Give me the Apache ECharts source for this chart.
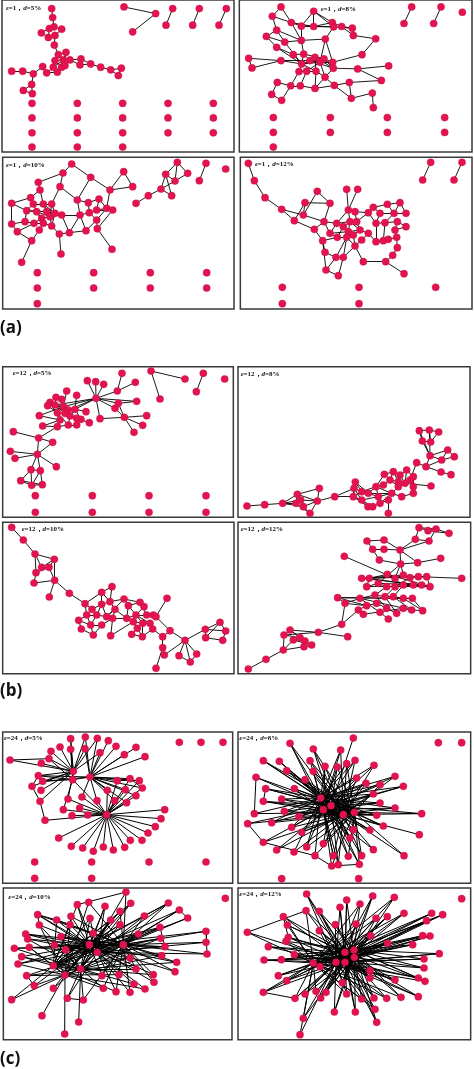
<!DOCTYPE html>
<html><head><meta charset="utf-8">
<script src="https://cdn.jsdelivr.net/npm/echarts@6/dist/echarts.min.js"></script>
<style>html,body{margin:0;padding:0;background:#fff}#c{width:474px;height:1069px}</style>
</head><body><div id="c"></div>
<script>
// ---- data (node positions in panel units) ----
const a1Nodes=[[155,23],[158,50],[162,78],[148,83],[185,85],[124,96],[145,110],[165,104],[163,133],[175,162],[198,155],[165,180],[190,178],[160,200],[185,200],[172,215],[140,217],[195,195],[210,178],[243,175],[240,193],[272,190],[302,200],[332,208],[364,203],[355,225],[128,198],[100,220],[68,212],[35,212],[95,252],[70,270],[97,280],[372,18],[467,38],[398,93],[518,23],[498,73],[598,23],[578,73],[679,23],[657,73]];
const a1Edges="0-1 1-2 2-3 2-4 3-5 3-6 4-7 6-7 5-6 7-8 8-9 9-11 9-12 10-12 10-17 11-13 11-12 12-14 13-15 14-15 13-16 14-17 11-14 12-13 15-16 17-18 18-19 19-20 20-21 21-22 22-23 23-24 24-25 23-25 16-26 26-27 27-28 28-29 27-30 30-31 30-32 31-32 12-15 9-10 18-20 19-21 33-34 34-35 36-37 38-39 40-41";
const a1Iso=[[96,309],[232,309],[368,309],[504,309],[640,309],[96,353],[232,353],[368,353],[504,353],[640,353],[96,398],[232,398],[368,398],[504,398],[640,398],[96,441],[232,441],[368,441]];

const a2Nodes=[[843,18],[941,31],[817,46],[874,65],[904,76],[941,77],[997,65],[1025,77],[1057,82],[1060,104],[1001,78],[830,88],[799,107],[854,124],[904,119],[976,115],[1127,114],[830,140],[1086,162],[880,162],[911,160],[746,173],[756,202],[843,180],[905,190],[930,180],[960,185],[945,170],[972,175],[998,185],[1000,203],[1073,205],[1166,196],[897,213],[920,212],[948,212],[975,230],[1003,255],[1048,246],[1144,240],[832,246],[872,256],[901,256],[945,264],[1117,278],[815,282],[845,300],[1054,294],[1120,322],[1235,18],[1212,68],[1323,18],[1301,68]];
const a2Edges="0-2 0-3 1-4 1-5 1-6 2-3 2-11 3-4 3-5 4-5 4-14 5-6 5-10 6-7 6-10 7-8 7-9 8-9 9-16 10-15 11-12 11-13 12-13 12-17 13-14 14-15 14-20 15-29 16-18 18-29 17-19 19-20 20-24 21-22 21-23 22-23 23-24 23-25 24-25 24-26 25-26 25-27 26-27 26-28 27-28 28-29 29-30 30-31 31-32 30-36 24-33 33-34 34-35 35-36 36-37 37-38 38-39 37-47 47-44 44-48 38-47 33-41 41-42 42-43 43-36 40-41 40-45 45-46 46-41 34-42 35-43 3-14 4-10 15-26 13-24 17-24 25-30 26-29 28-30 27-35 26-34 19-24 11-14 8-10 1-10 20-28 43-37 39-31 24-28 25-29 24-35 27-30 26-36 20-25 49-50 51-52";
const a2Iso=[[1387,34],[820,352],[991,352],[1162,352],[1334,352],[820,397],[991,397],[1162,397],[1334,397],[820,441]];

const a3Nodes=[[215,42],[189,69],[272,82],[115,97],[180,110],[371,65],[398,110],[330,120],[120,120],[92,143],[35,160],[100,162],[130,162],[155,162],[80,182],[110,185],[140,185],[165,190],[125,205],[150,200],[185,195],[75,215],[35,222],[102,220],[130,220],[155,228],[52,245],[118,240],[178,252],[208,248],[95,272],[65,337],[183,312],[232,150],[265,158],[297,147],[240,195],[268,188],[290,180],[320,175],[338,180],[290,210],[258,242],[292,236],[336,298],[532,37],[563,70],[497,73],[525,93],[483,117],[515,137],[445,137],[408,160],[618,40],[598,92]];
const a3Edges="0-1 0-2 1-4 1-3 3-8 4-13 4-33 2-33 2-7 7-5 5-6 6-7 7-39 8-9 8-12 9-10 9-11 10-14 10-22 11-12 11-14 11-15 12-13 12-16 13-17 13-19 14-15 14-21 15-16 15-18 16-17 16-19 17-20 18-19 18-23 18-24 19-20 19-25 20-29 20-36 21-22 21-23 22-26 23-24 23-26 24-25 24-27 25-28 26-30 27-30 28-29 28-32 30-31 33-34 33-36 34-35 34-37 35-38 35-39 36-37 36-42 37-38 37-41 38-39 38-40 39-40 40-43 41-42 41-43 42-29 43-44 39-41 12-17 15-19 11-13 25-17 29-36 14-16 16-20 12-19 15-24 45-46 45-47 45-48 47-48 46-48 47-49 48-49 49-50 47-50 49-51 51-52 53-54";
const a3Iso=[[677,57],[112,368],[281,368],[451,368],[620,368],[112,414],[281,414],[451,414],[620,414],[112,461]];

const a4Nodes=[[745,40],[763,92],[795,143],[845,178],[883,212],[910,195],[952,124],[915,158],[990,160],[1040,118],[1073,118],[943,238],[972,215],[1010,220],[1045,180],[1065,185],[1030,230],[1050,215],[1070,215],[1045,245],[1060,255],[1080,240],[990,250],[1012,262],[968,272],[1040,262],[1065,288],[975,307],[1008,322],[1030,322],[1090,335],[978,360],[1015,377],[1105,188],[1120,172],[1162,163],[1200,158],[1218,190],[1182,190],[1140,190],[1128,220],[1155,218],[1192,215],[1218,230],[1185,240],[1128,275],[1150,272],[1165,268],[1190,262],[1192,293],[1178,316],[1157,335],[1212,371],[1105,250],[1085,270],[1292,37],[1268,90],[1386,37],[1362,90]];
const a4Edges="0-1 1-2 2-3 3-4 3-5 4-7 5-7 5-6 6-8 7-8 8-12 5-12 9-14 10-14 4-11 11-12 12-13 13-14 13-16 14-15 14-17 15-18 16-17 17-18 16-19 17-19 18-21 19-20 20-21 19-22 22-23 22-12 23-24 23-25 24-27 25-26 20-26 25-28 27-28 28-29 29-25 31-28 31-32 32-29 26-30 30-51 51-50 50-49 49-48 51-52 18-33 33-34 34-35 35-36 36-37 37-38 38-35 38-39 39-34 39-40 40-41 41-42 42-43 42-44 44-48 43-44 40-45 45-46 46-47 47-48 41-46 38-41 33-40 21-53 53-45 53-54 54-26 15-33 17-21 13-22 16-23 20-25 11-24 24-31 29-26 36-38 45-47 16-20 13-17 19-21 55-56 57-58";
const a4Iso=[[847,412],[1077,412],[1307,412],[847,461],[1077,461]];

const b1Nodes=[[366,40],[262,62],[287,65],[311,73],[406,67],[352,93],[288,115],[410,124],[355,130],[345,145],[440,167],[373,172],[300,176],[428,196],[402,217],[200,93],[230,106],[168,112],[185,118],[150,127],[143,137],[165,135],[190,140],[205,150],[225,148],[172,158],[195,160],[210,168],[243,178],[230,175],[180,180],[205,195],[230,195],[258,155],[268,188],[118,167],[128,198],[172,200],[40,215],[116,234],[158,247],[31,274],[45,295],[112,283],[169,320],[93,329],[121,332],[62,362],[95,376],[127,374],[453,33],[555,57],[480,117],[610,40],[589,95]];
const b1Edges="0-5 1-6 2-6 3-6 4-5 5-6 6-8 6-24 6-22 6-21 6-23 6-9 6-7 8-7 8-9 8-11 9-11 11-10 11-13 11-14 11-12 12-6 15-22 16-24 17-21 18-22 19-21 20-22 21-22 21-23 22-23 22-25 23-24 23-26 24-27 25-26 25-30 26-27 26-29 27-28 27-31 28-24 29-32 30-35 30-37 31-32 33-24 34-27 35-22 36-37 36-30 37-39 37-31 38-39 39-43 40-43 40-39 41-43 42-43 43-44 43-45 43-46 45-46 45-47 45-48 46-48 46-49 47-48 47-49 48-49 20-25 19-30 21-26 25-31 50-51 50-52 53-54";
const b1Iso=[[674,57],[106,407],[277,407],[447,407],[618,407],[106,457],[277,457],[447,457],[618,457]];

const b2Nodes=[[741,438],[794,434],[848,430],[892,403],[902,420],[910,440],[930,460],[888,430],[952,423],[958,385],[1004,410],[1066,366],[1062,385],[1060,410],[1085,395],[1085,420],[1104,440],[1105,400],[1128,380],[1135,410],[1140,430],[1118,440],[1165,420],[1165,460],[1175,400],[1205,410],[1240,400],[1240,380],[1153,343],[1180,335],[1200,345],[1220,330],[1240,350],[1170,360],[1195,365],[1215,370],[1230,360],[1150,375],[1195,380],[1293,378],[1250,308],[1278,320],[1290,287],[1323,336],[1353,344],[1325,300],[1343,270],[1363,290],[1258,212],[1288,210],[1316,216],[1267,243],[1292,246]];
const b2Edges="0-1 1-2 2-3 2-4 2-5 2-7 3-4 3-8 4-5 4-8 5-6 5-8 6-8 7-3 7-6 8-9 8-10 9-3 10-13 13-11 13-12 13-14 13-15 12-14 11-14 14-17 15-16 15-19 16-21 17-18 17-19 18-19 19-20 20-21 20-22 22-23 19-24 24-25 25-26 26-27 24-18 18-28 18-37 37-33 28-29 29-30 30-31 31-32 33-34 34-35 35-36 36-32 29-33 30-34 31-35 32-26 28-33 35-38 38-24 27-36 36-40 40-41 41-42 41-43 42-46 42-45 45-47 46-47 45-46 43-44 41-45 42-48 42-49 42-51 48-49 49-50 50-52 51-52 48-51 49-52 35-39 14-18 12-11 17-24 20-24 11-17 10-12 12-15 13-16 15-21 29-34 30-35 33-38";
const b2Iso=[];

const b3Nodes=[[35,37],[70,75],[105,117],[163,133],[147,157],[125,157],[108,173],[102,204],[164,196],[148,246],[208,235],[255,266],[305,232],[336,215],[276,283],[305,268],[330,260],[345,283],[260,300],[290,300],[320,305],[236,316],[272,330],[305,330],[338,310],[244,342],[280,360],[332,362],[372,252],[385,272],[420,262],[432,275],[380,310],[408,300],[440,300],[460,300],[400,320],[428,325],[450,325],[412,340],[395,358],[427,365],[458,342],[468,305],[501,250],[488,365],[510,347],[555,376],[488,398],[493,420],[537,422],[571,441],[590,417],[468,460],[616,343],[617,368],[660,322],[677,348],[668,376]];
const b3Edges="0-1 1-2 2-3 2-5 2-6 3-4 3-5 4-5 4-6 5-6 6-7 3-8 7-8 4-8 8-9 8-10 10-11 11-12 11-14 11-18 12-13 12-15 13-16 14-15 14-18 15-16 15-19 16-17 17-20 18-19 18-21 19-20 19-22 20-24 21-22 21-25 22-23 23-24 23-26 24-27 22-26 25-26 17-24 16-28 17-32 28-29 28-30 29-30 29-32 30-31 31-33 32-33 33-34 34-35 32-36 36-37 37-38 38-42 36-39 39-40 40-41 41-42 35-43 43-44 43-46 42-45 45-46 46-47 45-48 48-49 48-53 47-50 47-51 47-52 50-51 51-52 49-47 47-54 54-55 54-56 55-56 56-57 57-58 55-58 54-57 20-28 24-32 27-36 30-34 29-33 37-41 33-37 12-16 14-19 18-22 15-20 33-38 36-41";
const b3Iso=[];

const b4Nodes=[[745,462],[798,433],[850,405],[852,360],[870,345],[880,375],[900,368],[915,378],[935,390],[912,395],[955,352],[1043,365],[1025,328],[1257,38],[1284,47],[1308,42],[1347,55],[1246,73],[1287,78],[1101,78],[1152,75],[1118,103],[1152,103],[1200,105],[1033,124],[1138,135],[1202,147],[1253,143],[1322,130],[1385,190],[1085,190],[1108,190],[1162,178],[1185,190],[1210,180],[1230,188],[1255,185],[1280,185],[1100,215],[1135,205],[1160,215],[1185,215],[1210,210],[1240,210],[1265,210],[1290,215],[1013,248],[1035,265],[1080,250],[1125,240],[1155,245],[1180,245],[1210,250],[1237,250],[1075,285],[1100,272],[1130,265],[1160,280],[1190,295],[1210,280],[1235,285],[1268,287],[1090,298],[1140,292],[1165,312]];
const b4Edges="0-1 1-2 2-3 2-5 3-4 3-6 4-6 4-7 5-6 5-8 6-7 7-8 2-9 9-8 3-10 4-10 10-11 10-12 12-54 12-47 13-14 13-15 14-15 15-16 14-16 13-17 17-18 15-18 17-23 18-23 19-20 19-21 20-23 21-22 22-23 21-25 23-26 23-27 25-26 26-27 27-28 24-33 26-33 26-34 29-36 30-31 30-34 30-37 31-32 31-38 32-33 33-34 34-35 35-36 36-37 37-45 38-39 39-40 40-41 41-42 42-43 43-44 44-45 30-44 31-43 32-42 38-45 39-44 41-33 40-49 46-47 46-52 47-48 48-49 49-50 50-51 51-52 52-53 46-55 47-55 54-55 55-56 56-57 57-58 58-59 59-60 60-61 53-61 48-63 62-54 62-59 63-64 49-57 50-58 51-60 52-61 41-50 42-51 26-39 35-41 30-36 32-45 46-53 48-60";
const b4Iso=[];

const c1Nodes=[[220,130],[270,147],[320,260],[218,155],[212,32],[256,27],[292,31],[325,38],[348,55],[180,57],[212,64],[255,62],[300,74],[153,70],[147,92],[124,106],[30,96],[373,80],[408,58],[435,86],[115,143],[128,160],[96,175],[123,187],[352,158],[390,152],[418,158],[427,180],[376,185],[322,187],[408,203],[380,224],[120,220],[204,213],[246,207],[291,218],[344,218],[190,245],[239,240],[216,263],[263,261],[135,277],[494,245],[483,272],[466,296],[444,315],[426,337],[391,337],[374,358],[340,366],[310,357],[280,370],[248,360],[214,355],[176,330]];
const c1Edges="0-4 0-5 0-9 0-10 0-11 0-13 0-14 0-15 0-16 0-20 0-21 0-22 0-23 0-6 0-12 0-33 0-32 0-3 1-5 1-6 1-7 1-8 1-11 1-12 1-17 1-18 1-19 1-24 1-25 1-26 1-27 1-28 1-29 1-30 1-31 1-34 1-35 1-36 1-3 1-20 1-21 2-33 2-34 2-35 2-36 2-37 2-38 2-39 2-40 2-41 2-42 2-43 2-44 2-45 2-46 2-47 2-48 2-49 2-50 2-51 2-52 2-53 2-54 2-24 2-25 2-26 2-27 2-28 2-29 2-30 2-31 2-3 3-4 3-10 3-14 3-20 3-21 3-37 20-22 22-32 32-41 24-26 25-27 16-14";
const c1Iso=[[538,43],[603,43],[669,43],[104,402],[275,402],[447,402],[618,402],[104,451],[275,451]];

const c2Nodes=[[962,210],[970,245],[993,233],[1030,260],[1063,253],[1060,30],[870,46],[940,63],[1022,66],[790,98],[838,100],[930,98],[975,115],[1012,117],[1040,107],[1065,97],[1122,112],[860,128],[940,130],[1070,150],[1098,166],[1140,170],[1185,145],[1210,175],[768,148],[797,182],[883,182],[915,155],[1120,198],[1140,225],[790,220],[845,213],[1185,240],[1265,257],[763,257],[853,250],[897,266],[1130,262],[743,287],[815,284],[875,298],[905,313],[1060,305],[1110,306],[1150,294],[1258,320],[790,343],[830,366],[882,372],[920,357],[970,347],[1050,330],[1120,365],[945,383],[1000,383],[1045,385],[1085,383],[1212,383],[995,414],[1015,410],[1078,409]];
const c2Edges="5-2 6-3 6-1 7-2 7-4 8-0 8-3 9-4 9-2 10-3 10-0 11-0 11-4 12-0 12-3 13-1 13-2 14-0 14-4 15-1 15-3 16-0 16-3 17-2 17-4 18-1 18-3 19-0 19-2 20-1 20-3 21-0 21-2 22-2 22-3 23-0 23-1 24-4 24-3 25-2 25-0 26-1 26-4 27-2 27-4 28-0 28-3 29-1 29-2 30-3 30-4 31-0 31-2 32-1 32-4 33-4 33-2 34-0 34-4 35-2 35-3 36-1 36-4 37-0 37-1 38-2 38-4 39-0 39-3 40-1 40-4 41-2 41-3 42-0 42-4 43-1 43-2 44-0 44-3 45-3 46-1 46-4 47-2 48-0 48-3 49-1 49-4 50-2 50-3 51-0 51-1 52-3 53-0 53-4 54-1 54-3 55-0 55-2 56-2 56-4 57-3 58-1 58-4 59-0 59-3 60-2 60-4 0-1 1-2 2-3 3-4 0-2 1-3 24-34 46-53 53-58 58-60 38-46 25-30 6-0 7-3 8-1 9-0 10-2 11-3 12-1 13-4 14-3 15-0 16-2 17-0 18-4 19-3 20-0 21-4 22-0 23-2 25-4 26-0 27-3 28-2 29-0 30-2 31-3 32-0 33-3 35-0 36-2 37-3 39-2 40-0 41-4 42-2 43-3 44-4 47-3 49-0 50-4 51-2 52-1 54-0 55-4 56-3 57-4 59-2 60-0";
const c2Iso=[[1315,44],[1385,44],[845,452],[1076,452]];

const c3Nodes=[[268,182],[292,205],[370,182],[242,255],[160,245],[195,273],[378,24],[232,62],[266,55],[315,67],[392,58],[505,57],[538,78],[563,102],[113,92],[170,108],[213,97],[270,103],[332,108],[360,82],[433,96],[118,123],[210,122],[360,122],[480,130],[77,150],[183,158],[280,148],[415,150],[618,142],[83,165],[482,163],[618,175],[43,193],[88,190],[163,183],[197,197],[495,188],[621,210],[65,218],[485,215],[54,240],[390,222],[530,235],[80,275],[306,275],[357,272],[408,255],[460,272],[525,263],[103,305],[160,313],[310,313],[348,323],[390,325],[402,300],[435,315],[462,295],[35,347],[202,343],[250,348],[126,395],[236,414],[194,450]];
const c3Edges="6-2 6-3 7-0 7-4 8-2 8-5 9-0 9-1 10-3 10-4 11-2 11-0 12-2 12-4 13-2 13-1 14-0 14-2 15-2 15-1 16-2 16-5 17-4 17-1 18-4 18-3 19-0 19-5 20-2 20-4 21-0 21-3 22-2 22-1 23-4 23-3 24-2 24-0 25-2 25-1 26-0 26-2 27-4 27-3 28-2 28-4 29-2 30-0 30-1 31-2 31-3 32-2 33-0 33-2 34-1 34-4 35-1 35-2 36-0 36-2 37-2 37-1 38-2 39-0 39-3 40-2 40-5 41-0 41-2 42-4 42-1 43-2 43-3 44-3 44-1 45-4 45-2 46-0 46-5 47-2 47-1 48-3 48-0 49-2 50-3 50-0 51-1 51-0 52-3 52-5 53-4 53-1 54-2 54-0 55-3 56-1 56-5 57-0 58-4 58-5 59-3 60-3 61-5 62-3 63-5 0-1 0-2 1-2 2-3 3-4 4-5 3-5 0-4 6-7 14-21 13-12 25-30 7-1 9-3 10-5 11-1 12-3 14-1 15-4 16-0 17-3 18-5 19-2 20-1 21-5 22-4 23-0 24-4 25-0 26-3 27-2 28-0 29-0 30-3 31-1 32-1 33-3 34-5 35-3 36-4 37-0 38-1 39-4 40-1 41-5 42-3 43-0 44-5 45-0 47-3 48-2 49-0 52-2 53-2 55-1 57-2 59-1 60-2 14-15 15-22 11-20 24-37 38-29 32-29 44-50 59-60";
const c3Iso=[[676,43]];

const c4Nodes=[[1035,205],[1062,198],[1008,235],[1035,235],[1063,220],[940,237],[920,30],[1118,36],[1183,40],[1040,48],[1080,60],[1020,70],[918,80],[958,82],[1295,88],[1328,92],[850,98],[1162,98],[1212,88],[1128,103],[1280,110],[862,123],[1006,122],[1068,120],[742,145],[958,140],[1112,155],[1268,155],[1290,156],[865,160],[858,172],[1163,178],[1238,182],[805,188],[883,212],[1318,209],[792,228],[844,227],[1272,225],[960,248],[1272,252],[835,275],[1110,260],[1110,282],[1255,282],[860,290],[1185,288],[1275,292],[1027,296],[790,325],[915,330],[948,322],[978,325],[885,343],[962,342],[1040,330],[1085,345],[1122,342],[1160,343],[1203,340],[1255,338],[1003,384],[1066,384],[1125,376],[910,403],[1130,415],[900,452]];
const c4Edges="6-0 6-2 7-1 7-3 8-4 8-0 9-0 9-3 10-1 10-2 11-2 11-3 12-5 12-4 13-0 13-3 14-1 14-5 15-4 15-2 16-5 16-3 17-0 17-1 18-3 18-2 19-4 19-5 20-0 20-2 21-5 21-4 22-2 22-1 23-3 23-0 24-5 25-0 25-2 26-4 26-3 27-1 27-5 28-0 28-2 29-3 29-4 30-5 30-1 31-0 31-2 32-4 32-5 33-2 33-0 34-5 34-3 35-1 35-3 36-5 36-2 37-0 37-4 38-1 38-2 39-0 39-5 40-3 40-4 41-5 41-1 42-0 42-2 43-4 43-3 44-1 44-2 45-5 45-0 46-3 46-4 47-1 47-0 48-2 48-4 49-5 49-3 50-0 50-2 51-5 51-1 52-3 52-4 53-5 53-2 54-0 54-1 55-3 55-5 56-2 56-4 57-1 57-3 58-0 58-2 59-4 59-5 60-3 60-0 61-2 61-1 62-4 62-3 63-0 63-5 64-5 64-2 65-3 65-1 66-5 0-1 1-4 2-3 3-4 0-3 2-5 16-29 24-12 49-53 6-3 7-2 8-5 9-4 10-5 11-0 12-3 13-1 14-2 15-0 16-4 17-2 18-5 19-0 20-3 21-0 22-4 23-5 24-3 25-4 26-0 27-2 28-3 29-0 30-2 31-3 32-1 33-4 34-1 35-2 36-4 37-1 38-5 39-3 40-1 41-2 42-5 43-0 44-3 45-4 46-2 47-5 48-1 49-0 50-4 51-3 52-0 53-1 54-4 55-2 56-5 57-0 58-5 59-1 60-2 61-4 62-0 63-2 64-3 65-0 66-2";
const c4Iso=[[1385,44]];

const panelLabels=["{i|ε}=1，{i|d}=5%","{i|ε}=1，{i|d}=8%","{i|ε}=1，{i|d}=10%","{i|ε}=1，{i|d}=12%","{i|ε}=12，{i|d}=5%","{i|ε}=12，{i|d}=8%","{i|ε}=12，{i|d}=10%","{i|ε}=12，{i|d}=12%","{i|ε}=24，{i|d}=5%","{i|ε}=24，{i|d}=8%","{i|ε}=24，{i|d}=10%","{i|ε}=24，{i|d}=12%"];
const groupLabels=["(a)","(b)","(c)"];

// ---- layout ----
const panels=[
 {n:a1Nodes,e:a1Edges,iso:a1Iso,oy:0,  x:[6,702],   y:[-3,456],lab:[18,27],lw:0.9},
 {n:a2Nodes,e:a2Edges,iso:a2Iso,oy:0,  x:[718,1416],y:[-3,456],lab:[962,29],lw:0.9},
 {n:a3Nodes,e:a3Edges,iso:a3Iso,oy:150,x:[8,702],   y:[22,477],lab:[18,47],lw:0.9},
 {n:a4Nodes,e:a4Edges,iso:a4Iso,oy:150,x:[721,1416],y:[22,477],lab:[765,45],lw:0.9},
 {n:b1Nodes,e:b1Edges,iso:b1Iso,oy:360,x:[8,700],   y:[20,472],lab:[38,42],lw:0.9},
 {n:b2Nodes,e:b2Edges,iso:b2Iso,oy:360,x:[714,1410],y:[20,472],lab:[722,45],lw:0.9},
 {n:b3Nodes,e:b3Edges,iso:b3Iso,oy:515,x:[8,702],   y:[22,476],lab:[65,45],lw:0.9},
 {n:b4Nodes,e:b4Edges,iso:b4Iso,oy:515,x:[714,1412],y:[22,476],lab:[722,45],lw:0.9},
 {n:c1Nodes,e:c1Edges,iso:c1Iso,oy:728,x:[8,698],   y:[12,466],lab:[12,33],lw:1.0},
 {n:c2Nodes,e:c2Edges,iso:c2Iso,oy:728,x:[714,1412],y:[12,466],lab:[718,33],lw:1.0},
 {n:c3Nodes,e:c3Edges,iso:c3Iso,oy:884,x:[10,696],  y:[12,467],lab:[25,40],lw:1.0},
 {n:c4Nodes,e:c4Edges,iso:c4Iso,oy:884,x:[714,1412],y:[12,467],lab:[718,33],lw:1.0}
];
const grids=[],xAxes=[],yAxes=[],series=[],graphic=[];
panels.forEach((p,i)=>{
  grids.push({left:p.x[0]/3,top:p.oy+p.y[0]/3,width:(p.x[1]-p.x[0])/3,height:(p.y[1]-p.y[0])/3,
    show:true,borderColor:'#3a3a3a',borderWidth:1.5,backgroundColor:'#fff'});
  xAxes.push({gridIndex:i,type:'value',min:p.x[0],max:p.x[1],show:false});
  yAxes.push({gridIndex:i,type:'value',min:p.y[0],max:p.y[1],inverse:true,show:false});
  const nodes=p.n.concat(p.iso).map((v,k)=>({name:'p'+i+'_'+k,value:v}));
  const links=p.e.trim().split(/\s+/).map(s=>{const [a,b]=s.split('-').map(Number);return {source:a,target:b};});
  series.push({type:'graph',coordinateSystem:'cartesian2d',xAxisIndex:i,yAxisIndex:i,
    data:nodes,links:links,symbolSize:7.2,silent:true,label:{show:false},
    itemStyle:{color:'#e3134f',borderColor:'#c80f42',borderWidth:0.4},
    lineStyle:{color:'#000',width:p.lw,opacity:1}});
  graphic.push({type:'text',left:p.lab[0]/3,top:p.oy+p.lab[1]/3-4,z:100,
    style:{text:panelLabels[i],fill:'#111',fontFamily:'Liberation Serif',fontSize:7,fontWeight:'bold',
      rich:{i:{fontStyle:'italic',fontFamily:'Liberation Serif',fontSize:7,fontWeight:'bold'}}}});
});
[[0,320],[0,683],[0,1051]].forEach((pos,j)=>{
  graphic.push({type:'text',left:pos[0],top:pos[1],style:{text:groupLabels[j],fill:'#111',
    fontFamily:'Open Sans',fontSize:17,fontWeight:'bold'}});
});
const chart=echarts.init(document.getElementById('c'));
chart.setOption({animation:false,backgroundColor:'#fff',grid:grids,xAxis:xAxes,yAxis:yAxes,series:series,graphic:graphic});
</script></body></html>
